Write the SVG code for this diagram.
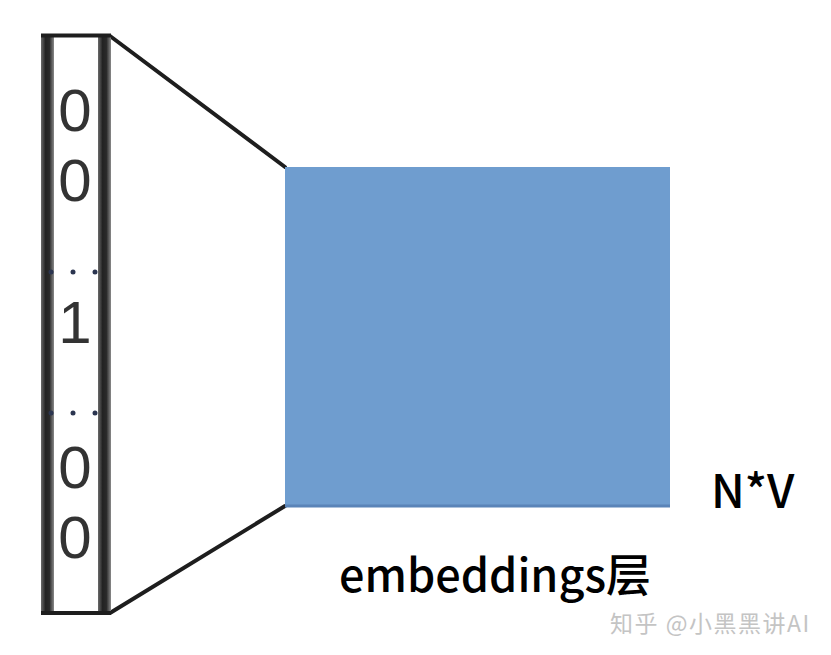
<svg xmlns="http://www.w3.org/2000/svg" width="831" height="655" viewBox="0 0 831 655">
  <defs>
    <linearGradient id="bar" x1="0" y1="0" x2="1" y2="0">
      <stop offset="0" stop-color="#6a6a6a"/>
      <stop offset="0.35" stop-color="#222"/>
      <stop offset="0.65" stop-color="#2a2a2a"/>
      <stop offset="1" stop-color="#8a8a8a"/>
    </linearGradient>
  </defs>
  <style>
    .digit { font-family: "Liberation Sans", Arial, sans-serif; font-size: 60px; fill: #333; text-anchor: middle; }
    .dot { fill: #2b3550; }
    .edge { stroke: #1e1e1e; stroke-width: 4; fill: none; stroke-linecap: round; }
    .label { font-family: "Noto Sans CJK SC", "Noto Sans", sans-serif; fill: #000; font-weight: 500; }
    .wm { font-family: "Noto Sans CJK SC", "Noto Sans", sans-serif; fill: #c4c4c4; font-size: 23px; letter-spacing: 1.5px; }
  </style>
  <rect x="0" y="0" width="831" height="655" fill="#fff"/>

  <g id="connectors">
    <line class="edge" x1="110" y1="36" x2="285" y2="167"/>
    <line class="edge" x1="110" y1="613" x2="285" y2="506"/>
  </g>

  <g id="onehot-vector">
    <rect x="41" y="35" width="13" height="579" fill="url(#bar)"/>
    <rect x="98" y="35" width="13" height="579" fill="url(#bar)"/>
    <line x1="41" y1="35.5" x2="111" y2="35.5" stroke="#1e1e1e" stroke-width="4"/>
    <line x1="41" y1="613" x2="111" y2="613" stroke="#1e1e1e" stroke-width="4"/>
    <text class="digit" x="75" y="131">0</text>
    <text class="digit" x="75" y="201">0</text>
    <circle class="dot" cx="51" cy="272" r="2.5"/>
    <circle class="dot" cx="73" cy="272" r="2.5"/>
    <circle class="dot" cx="95" cy="272" r="2.5"/>
    <text class="digit" x="75" y="343">1</text>
    <circle class="dot" cx="51" cy="413" r="2.5"/>
    <circle class="dot" cx="73" cy="413" r="2.5"/>
    <circle class="dot" cx="95" cy="413" r="2.5"/>
    <text class="digit" x="75" y="488">0</text>
    <text class="digit" x="75" y="558">0</text>
  </g>

  <g id="embedding-matrix">
    <rect x="285" y="167" width="385" height="340" fill="#6f9dcf"/>
    <line x1="285" y1="506" x2="670" y2="506" stroke="#5a84b8" stroke-width="3"/>
  </g>

  <g id="label-nv">
    <text class="label" x="711" y="508" font-size="46">N*V</text>
  </g>

  <g id="label-embeddings">
    <text class="label" x="339" y="592" font-size="45">embeddings层</text>
  </g>

  <g id="watermark">
    <text class="wm" x="610" y="632">知乎 @小黑黑讲AI</text>
  </g>
</svg>
